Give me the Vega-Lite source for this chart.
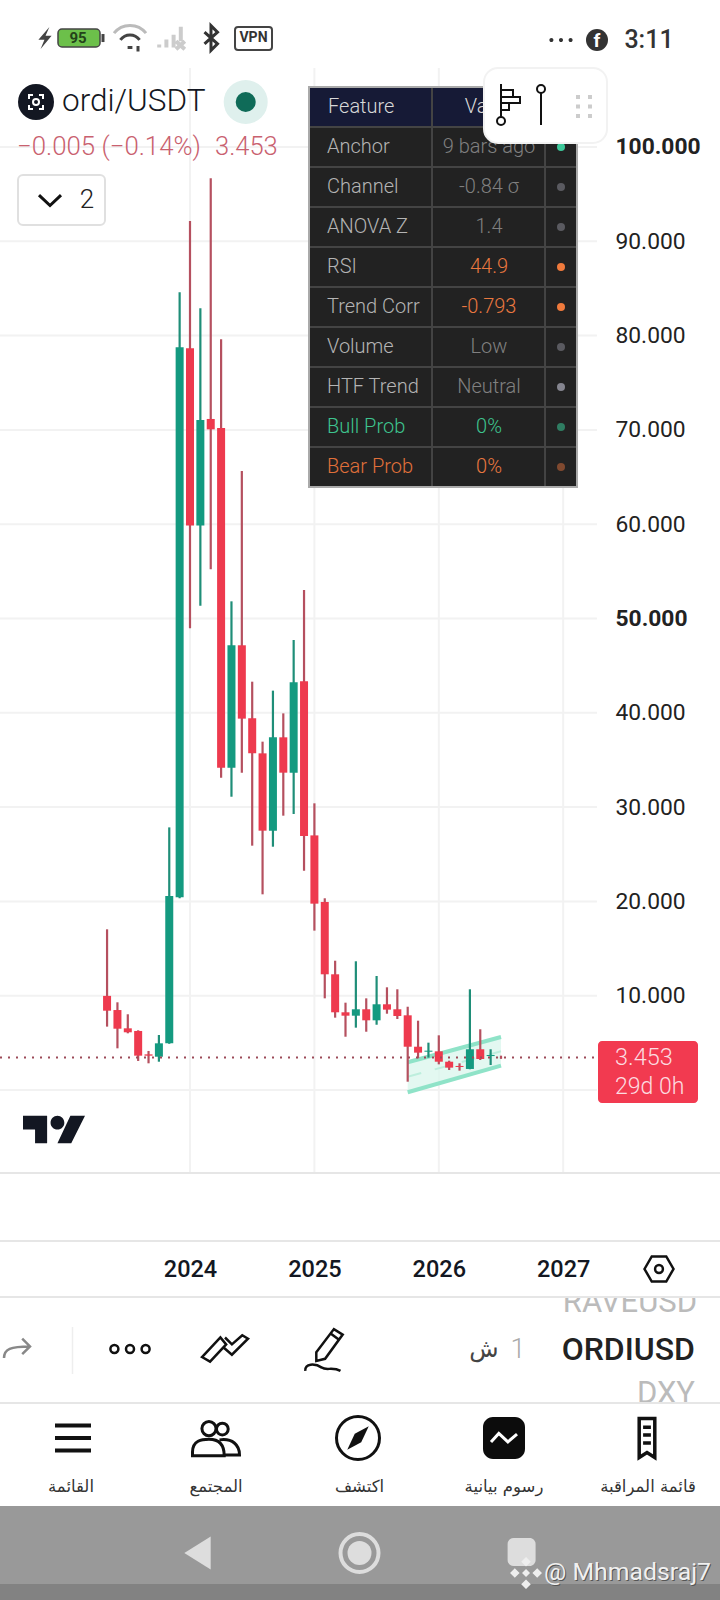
{
"$schema":"https://vega.github.io/schema/vega-lite/v6.json",
"width":720,"height":1600,"padding":0,"autosize":{"type":"none"},"background":"white",
"config":{"view":{"stroke":null},"font":"Roboto","axis":{"domain":false,"ticks":false,"grid":false,"title":null},"point":{"opacity":1},"text":{"baseline":"middle"}},
"data":{"values":[{"layer":"screen"}]},
"datasets":{
"candles":[
{"month":"2023-05","year":2023.3333,"open":9.98,"high":17.04,"low":6.72,"close":8.41},
{"month":"2023-06","year":2023.4167,"open":8.48,"high":9.3,"low":4.42,"close":6.5},
{"month":"2023-07","year":2023.5,"open":6.54,"high":8.03,"low":6.01,"close":6.12},
{"month":"2023-08","year":2023.5833,"open":6.26,"high":6.33,"low":3.08,"close":3.64},
{"month":"2023-09","year":2023.6667,"open":3.78,"high":4.14,"low":2.83,"close":3.64},
{"month":"2023-10","year":2023.75,"open":3.53,"high":5.83,"low":3.0,"close":4.95},
{"month":"2023-11","year":2023.8333,"open":4.95,"high":27.85,"low":4.9,"close":20.57},
{"month":"2023-12","year":2023.9167,"open":20.43,"high":84.59,"low":20.33,"close":78.76},
{"month":"2024-01","year":2024,"open":78.65,"high":92.15,"low":48.96,"close":59.85},
{"month":"2024-02","year":2024.0833,"open":59.85,"high":82.89,"low":51.36,"close":71.05},
{"month":"2024-03","year":2024.1667,"open":71.16,"high":96.68,"low":55.22,"close":70.06},
{"month":"2024-04","year":2024.25,"open":70.2,"high":79.6,"low":33.12,"close":34.18},
{"month":"2024-05","year":2024.3333,"open":34.18,"high":51.82,"low":31.1,"close":47.16},
{"month":"2024-06","year":2024.4167,"open":47.16,"high":65.64,"low":33.65,"close":39.38},
{"month":"2024-07","year":2024.5,"open":39.41,"high":43.3,"low":25.91,"close":35.7},
{"month":"2024-08","year":2024.5833,"open":35.7,"high":36.94,"low":20.75,"close":27.5},
{"month":"2024-09","year":2024.6667,"open":27.5,"high":42.35,"low":25.8,"close":37.4},
{"month":"2024-10","year":2024.75,"open":37.4,"high":39.94,"low":29.09,"close":33.65},
{"month":"2024-11","year":2024.8333,"open":33.65,"high":47.72,"low":29.27,"close":43.23},
{"month":"2024-12","year":2024.9167,"open":43.34,"high":53.02,"low":23.26,"close":26.94},
{"month":"2025-01","year":2025,"open":27.0,"high":30.4,"low":16.9,"close":19.76},
{"month":"2025-02","year":2025.0833,"open":19.94,"high":20.33,"low":9.72,"close":12.27},
{"month":"2025-03","year":2025.1667,"open":12.27,"high":13.71,"low":7.67,"close":8.24},
{"month":"2025-04","year":2025.25,"open":8.24,"high":9.26,"low":5.65,"close":7.88},
{"month":"2025-05","year":2025.3333,"open":7.88,"high":13.65,"low":6.61,"close":8.56},
{"month":"2025-06","year":2025.4167,"open":8.56,"high":9.72,"low":6.18,"close":7.39},
{"month":"2025-07","year":2025.5,"open":7.39,"high":12.09,"low":6.92,"close":9.09},
{"month":"2025-08","year":2025.5833,"open":9.09,"high":10.89,"low":8.09,"close":8.52},
{"month":"2025-09","year":2025.6667,"open":8.56,"high":10.68,"low":7.53,"close":7.85},
{"month":"2025-10","year":2025.75,"open":7.92,"high":8.83,"low":0.88,"close":4.59},
{"month":"2025-11","year":2025.8333,"open":4.59,"high":7.35,"low":3.36,"close":3.96},
{"month":"2025-12","year":2025.9167,"open":4.06,"high":5.02,"low":3.43,"close":4.17},
{"month":"2026-01","year":2026,"open":4.1,"high":5.8,"low":2.72,"close":3.0},
{"month":"2026-02","year":2026.0833,"open":3.0,"high":3.11,"low":2.12,"close":2.37},
{"month":"2026-03","year":2026.1667,"open":2.55,"high":2.83,"low":2.05,"close":2.44},
{"month":"2026-04","year":2026.25,"open":2.23,"high":10.68,"low":2.2,"close":4.32},
{"month":"2026-05","year":2026.3333,"open":4.32,"high":6.44,"low":3.18,"close":3.29},
{"month":"2026-06","year":2026.4167,"open":3.6,"high":4.32,"low":2.65,"close":3.71},
{"month":"2026-07","year":2026.5,"open":3.458,"high":3.64,"low":3.3,"close":3.453}
],
"channel":[{"year":2025.75,"upper":2.94,"mid":1.41,"lower":-0.24},{"year":2026.5,"upper":5.62,"mid":4.1,"lower":2.58}],
"features":[
{"feature":"Anchor","value":"9 bars ago"},{"feature":"Channel","value":"-0.84 σ"},{"feature":"ANOVA Z","value":"1.4"},
{"feature":"RSI","value":"44.9"},{"feature":"Trend Corr","value":"-0.793"},{"feature":"Volume","value":"Low"},
{"feature":"HTF Trend","value":"Neutral"},{"feature":"Bull Prob","value":"0%"},{"feature":"Bear Prob","value":"0%"}
]
},
"layer":[
{"data":{"values":[{"level":0},{"level":10},{"level":20},{"level":30},{"level":40},{"level":50},{"level":60},{"level":70},{"level":80},{"level":90},{"level":100}]},
"mark":{"type":"rule","color":"#f2f2f2","strokeWidth":2},
"encoding":{"y":{"field":"level","type":"quantitative","scale":{"domain":[-54.0827,115.5885],"nice":false,"zero":false},
"axis":{"orient":"right","offset":-105,"labelPadding":0,"labelAlign":"left","values":[10,20,30,40,50,60,70,80,90,100],"format":".3f","labelFontSize":22.8,"labelColor":"#222222","labelFontWeight":{"condition":{"test":"datum.value==50||datum.value==100","value":"bold"},"value":"normal"}}},
"x":{"datum":2022.4727},"x2":{"datum":2027.2717}}},
{"data":{"values":[{"year":2024},{"year":2025},{"year":2026},{"year":2027}]},
"mark":{"type":"rule","color":"#f2f2f2","strokeWidth":2},
"encoding":{"x":{"field":"year","type":"quantitative","scale":{"domain":[2022.47267,2028.26045],"nice":false,"zero":false,"padding":0},
"axis":{"orient":"bottom","offset":-343,"labelPadding":0,"values":[2024,2025,2026,2027],"format":"d","labelFontSize":23.5,"labelFontWeight":500,"labelColor":"#131722","labelBaseline":"top"}},
"y":{"datum":108.377},"y2":{"datum":-8.802}}},

{"data":{"name":"channel"},"mark":{"type":"area","color":"#d9f5ec","opacity":0.75},"encoding":{"x":{"field":"year","type":"quantitative"},"y":{"field":"upper","type":"quantitative"},"y2":{"field":"lower"}}},
{"data":{"name":"channel"},"mark":{"type":"line","color":"#8fe3c8","strokeWidth":4},"encoding":{"x":{"field":"year","type":"quantitative"},"y":{"field":"upper","type":"quantitative"}}},
{"data":{"name":"channel"},"mark":{"type":"line","color":"#8fe3c8","strokeWidth":4},"encoding":{"x":{"field":"year","type":"quantitative"},"y":{"field":"lower","type":"quantitative"}}},
{"data":{"name":"channel"},"mark":{"type":"line","color":"#bdeedd","strokeWidth":2,"strokeDash":[14,14]},"encoding":{"x":{"field":"year","type":"quantitative"},"y":{"field":"mid","type":"quantitative"}}},

{"data":{"name":"candles"},"mark":{"type":"rule","strokeWidth":2.2},
"encoding":{"x":{"field":"year","type":"quantitative"},"y":{"field":"high","type":"quantitative"},"y2":{"field":"low"},
"color":{"condition":{"test":"datum.close<datum.open","value":"#b5505f"},"value":"#1f8e78"}}},
{"data":{"name":"candles"},"mark":{"type":"bar","size":8,"orient":"vertical"},
"encoding":{"x":{"field":"year","type":"quantitative"},"y":{"field":"open","type":"quantitative"},"y2":{"field":"close"},
"color":{"condition":{"test":"datum.close<datum.open","value":"#ee3a4e"},"value":"#149a80"}}},

{"mark":{"type":"rule","color":"#9c4a58","strokeWidth":2,"strokeDash":[2,6]},"encoding":{"y":{"datum":3.453},"x":{"datum":2022.4727},"x2":{"datum":2027.2717}}},

{"mark":{"type":"rect","color":"#f23a50","cornerRadius":4},"encoding":{"x":{"datum":2027.2798},"x2":{"datum":2028.0836},"y":{"datum":5.195},"y2":{"datum":-1.377}}},
{"mark":{"type":"text","text":"3.453","align":"left","fontSize":23.5,"fontWeight":300,"color":"#fcdde0"},"encoding":{"x":{"datum":2027.4164},"y":{"datum":3.392}}},
{"mark":{"type":"text","text":"29d 0h","align":"left","fontSize":23,"fontWeight":300,"color":"#fcdde0"},"encoding":{"x":{"datum":2027.4164},"y":{"datum":0.314}}},
{"mark":{"type":"point","filled":true,"color":"#131722","size":3844,"shape":"M-0.222,-0.444 H-1 V0 H-0.611 V0.444 H-0.222 Z M0.556,0.444 H0.111 L0.528,-0.444 H1 Z M-0.111,-0.222 A0.222,0.222 0 1 0 0.333,-0.222 A0.222,0.222 0 1 0 -0.111,-0.222"},"encoding":{"x":{"datum":2022.9068},"y":{"datum":-4.19}}},

{"mark":{"type":"rect","fill":"#222222","stroke":"#aaaaaa","strokeWidth":2},"encoding":{"x":{"datum":2024.9566},"x2":{"datum":2027.111},"y":{"datum":106.362},"y2":{"datum":63.945}}},
{"mark":{"type":"rect","fill":"#161a36"},"encoding":{"x":{"datum":2024.9646},"x2":{"datum":2027.103},"y":{"datum":106.25},"y2":{"datum":102.121}}},
{"mark":{"type":"rule","color":"#444444","strokeWidth":2},"encoding":{"x":{"datum":2025.9454},"y":{"datum":106.25},"y2":{"datum":64.05}}},
{"mark":{"type":"rule","color":"#444444","strokeWidth":2},"encoding":{"x":{"datum":2026.8538},"y":{"datum":106.25},"y2":{"datum":64.05}}},
{"mark":{"type":"rule","color":"#444444","strokeWidth":2},"encoding":{"y":{"datum":102.121},"x":{"datum":2024.9646},"x2":{"datum":2027.103}}},
{"data":{"name":"features"},"transform":[{"filter":"datum.feature!='Bear Prob'"}],"mark":{"type":"rule","color":"#444444","strokeWidth":2},
"encoding":{"y":{"datum":97.879},"yOffset":{"field":"feature","type":"nominal","scale":{"type":"point","padding":0,"domain":["Anchor","Channel","ANOVA Z","RSI","Trend Corr","Volume","HTF Trend","Bull Prob","Bear Prob"],"range":[0,320]}},"x":{"datum":2024.9646},"x2":{"datum":2027.103}}},
{"mark":{"type":"text","text":"Feature","align":"left","fontSize":20,"fontWeight":300,"color":"#d8d8d8"},"encoding":{"x":{"datum":2025.1094},"y":{"datum":104.242}}},
{"mark":{"type":"text","text":"Value","fontSize":20,"fontWeight":300,"color":"#d8d8d8"},"encoding":{"x":{"datum":2026.4035},"y":{"datum":104.242}}},
{"data":{"name":"features"},"mark":{"type":"text","align":"left","fontSize":20,"fontWeight":300},
"encoding":{"x":{"datum":2025.1013},"y":{"datum":100},"yOffset":{"field":"feature","type":"nominal","scale":{"type":"point","padding":0,"domain":["Anchor","Channel","ANOVA Z","RSI","Trend Corr","Volume","HTF Trend","Bull Prob","Bear Prob"],"range":[0,320]}},"text":{"field":"feature"},
"color":{"condition":[{"test":"datum.feature=='Bull Prob'","value":"#3ec48f"},{"test":"datum.feature=='Bear Prob'","value":"#e0703a"}],"value":"#b4b4b4"}}},
{"data":{"name":"features"},"mark":{"type":"text","fontSize":20,"fontWeight":300},
"encoding":{"x":{"datum":2026.4035},"y":{"datum":100},"yOffset":{"field":"feature","type":"nominal","scale":{"type":"point","padding":0,"domain":["Anchor","Channel","ANOVA Z","RSI","Trend Corr","Volume","HTF Trend","Bull Prob","Bear Prob"],"range":[0,320]}},"text":{"field":"value"},
"color":{"condition":[{"test":"datum.feature=='Bull Prob'","value":"#3ec48f"},{"test":"datum.feature=='Bear Prob'||datum.feature=='RSI'||datum.feature=='Trend Corr'","value":"#ea7840"}],"value":"#808080"}}},
{"data":{"name":"features"},"mark":{"type":"point","filled":true,"size":64},
"encoding":{"x":{"datum":2026.9823},"y":{"datum":100},"yOffset":{"field":"feature","type":"nominal","scale":{"type":"point","padding":0,"domain":["Anchor","Channel","ANOVA Z","RSI","Trend Corr","Volume","HTF Trend","Bull Prob","Bear Prob"],"range":[0,320]}},
"color":{"condition":[{"test":"datum.feature=='Anchor'","value":"#3dc89a"},{"test":"datum.feature=='RSI'||datum.feature=='Trend Corr'","value":"#f07a3c"},{"test":"datum.feature=='HTF Trend'","value":"#85858f"},{"test":"datum.feature=='Bull Prob'","value":"#2f7d62"},{"test":"datum.feature=='Bear Prob'","value":"#80492f"}],"value":"#5a5a60"}}},

{"mark":{"type":"rect","fill":"white","stroke":"#f2f2f2","strokeWidth":2,"cornerRadius":14},"encoding":{"x":{"datum":2026.3634},"x2":{"datum":2027.3522},"y":{"datum":108.377},"y2":{"datum":100.424}}},
{"mark":{"type":"point","filled":false,"color":"#111111","strokeWidth":2,"size":1764,"shape":"M-0.333,-1 V0.571 M-0.333,-0.714 H0.238 V-0.381 H0.571 V-0.095 H0.048 V0.238 H-0.333 M-0.333,-0.381 H0.238 M-0.333,-0.095 H0.048 M-0.333,0.571 A0.19,0.19 0 1 0 -0.333,0.952 A0.19,0.19 0 1 0 -0.333,0.571"},"encoding":{"x":{"datum":2026.5563},"y":{"datum":104.454}}},
{"mark":{"type":"point","filled":false,"color":"#111111","strokeWidth":2,"size":1764,"shape":"M0,-0.571 V0.952 M0,-0.952 A0.19,0.19 0 1 0 0,-0.571 A0.19,0.19 0 1 0 0,-0.952"},"encoding":{"x":{"datum":2026.8216},"y":{"datum":104.454}}},
{"mark":{"type":"point","filled":true,"color":"#cccccc","size":1764,"shape":"M-0.38,-0.55 H-0.19 V-0.36 H-0.38 Z M0.19,-0.55 H0.38 V-0.36 H0.19 Z M-0.38,-0.1 H-0.19 V0.09 H-0.38 Z M0.19,-0.1 H0.38 V0.09 H0.19 Z M-0.38,0.36 H-0.19 V0.55 H-0.38 Z M0.19,0.36 H0.38 V0.55 H0.19 Z"},"encoding":{"x":{"datum":2027.1672},"y":{"datum":104.295}}},

{"mark":{"type":"point","filled":true,"color":"#131722","size":1296},"encoding":{"x":{"datum":2022.7621},"y":{"datum":104.772}}},
{"mark":{"type":"point","filled":false,"color":"white","strokeWidth":2,"size":400,"shape":"M-0.7,-0.3 V-0.7 H-0.3 M0.3,-0.7 H0.7 V-0.3 M0.7,0.3 V0.7 H0.3 M-0.3,0.7 H-0.7 V0.3 M-0.3,0 A0.3,0.3 0 1 0 0.3,0 A0.3,0.3 0 1 0 -0.3,0"},"encoding":{"x":{"datum":2022.7621},"y":{"datum":104.772}}},
{"mark":{"type":"text","text":"ordi/USDT","align":"left","fontSize":31.5,"fontWeight":300,"color":"#131722"},"encoding":{"x":{"datum":2022.9711},"y":{"datum":104.772}}},
{"mark":{"type":"point","filled":true,"color":"#dff0ed","size":1936},"encoding":{"x":{"datum":2024.4478},"y":{"datum":104.772}}},
{"mark":{"type":"point","filled":true,"color":"#0f6b58","size":400},"encoding":{"x":{"datum":2024.4478},"y":{"datum":104.772}}},
{"mark":{"type":"text","text":"−0.005 (−0.14%)","align":"left","fontSize":25.8,"fontWeight":300,"color":"#c9616f"},"encoding":{"x":{"datum":2022.6094},"y":{"datum":99.999}}},
{"mark":{"type":"text","text":"3.453","align":"left","fontSize":25.5,"fontWeight":300,"color":"#c9616f"},"encoding":{"x":{"datum":2024.201},"y":{"datum":99.999}}},
{"mark":{"type":"rect","fill":"white","stroke":"#e0e0e0","strokeWidth":2,"cornerRadius":5},"encoding":{"x":{"datum":2022.6174},"x2":{"datum":2023.3168},"y":{"datum":97.03},"y2":{"datum":91.728}}},
{"mark":{"type":"point","filled":false,"color":"#111111","strokeWidth":3,"size":484,"shape":"M-1,-0.45 L0,0.5 L1,-0.45"},"encoding":{"x":{"datum":2022.8746},"y":{"datum":94.379}}},
{"mark":{"type":"text","text":"2","fontSize":26,"fontWeight":300,"color":"#222222"},"encoding":{"x":{"datum":2023.1721},"y":{"datum":94.379}}},

{"mark":{"type":"point","filled":true,"color":"#444444","size":484,"shape":"M0.4,-1 L-0.6,0.15 H-0.05 L-0.4,1 L0.6,-0.2 H0.05 Z"},"encoding":{"x":{"datum":2022.8344},"y":{"datum":111.559}}},
{"mark":{"type":"rect","fill":"#6cc04a","stroke":"#444444","strokeWidth":1.5,"cornerRadius":4},"encoding":{"x":{"datum":2022.9389},"x2":{"datum":2023.2766},"y":{"datum":112.513},"y2":{"datum":110.604}}},
{"mark":{"type":"rect","fill":"#444444"},"encoding":{"x":{"datum":2023.2886},"x2":{"datum":2023.3127},"y":{"datum":111.98},"y2":{"datum":111.13}}},
{"mark":{"type":"text","text":"95","fontSize":15,"fontWeight":"bold","color":"#24421a"},"encoding":{"x":{"datum":2023.0997},"y":{"datum":111.559}}},
{"mark":{"type":"point","filled":false,"color":"#bbbbbb","strokeWidth":3,"size":1024,"shape":"M-1,-0.3 C-0.5,-0.95 0.5,-0.95 1,-0.3"},"encoding":{"x":{"datum":2023.5177},"y":{"datum":111.559}}},
{"mark":{"type":"point","filled":false,"color":"#444444","strokeWidth":3,"size":1024,"shape":"M-0.6,0.12 C-0.3,-0.3 0.3,-0.3 0.6,0.12 M-0.15,0.6 H0.15 M0.5,0.5 V0.85"},"encoding":{"x":{"datum":2023.5177},"y":{"datum":111.559}}},
{"mark":{"type":"point","filled":false,"color":"#cccccc","strokeWidth":4,"size":1024,"shape":"M-0.8,0.6 V0.4 M-0.35,0.6 V0.1 M0.1,0.6 V-0.2 M0.55,0.2 V-0.7 M0.25,0.2 L0.8,0.7 M0.8,0.2 L0.25,0.7"},"encoding":{"x":{"datum":2023.8553},"y":{"datum":111.559}}},
{"mark":{"type":"point","filled":false,"color":"#333333","strokeWidth":3,"size":676,"shape":"M-0.5,-0.45 L0.5,0.45 L0,0.95 V-0.95 L0.5,-0.45 L-0.5,0.45"},"encoding":{"x":{"datum":2024.1688},"y":{"datum":111.559}}},
{"mark":{"type":"rect","fill":"white","stroke":"#444444","strokeWidth":2,"cornerRadius":3},"encoding":{"x":{"datum":2024.3618},"x2":{"datum":2024.6592},"y":{"datum":112.725},"y2":{"datum":110.286}}},
{"mark":{"type":"text","text":"VPN","fontSize":14,"fontWeight":"bold","color":"#333333"},"encoding":{"x":{"datum":2024.5105},"y":{"datum":111.506}}},
{"mark":{"type":"point","filled":true,"color":"#333333","size":576,"shape":"M-0.97,0 A0.17,0.17 0 1 0 -0.63,0 A0.17,0.17 0 1 0 -0.97,0 M-0.17,0 A0.17,0.17 0 1 0 0.17,0 A0.17,0.17 0 1 0 -0.17,0 M0.63,0 A0.17,0.17 0 1 0 0.97,0 A0.17,0.17 0 1 0 0.63,0"},"encoding":{"x":{"datum":2026.9823},"y":{"datum":111.347}}},
{"mark":{"type":"point","filled":true,"color":"#333333","size":484},"encoding":{"x":{"datum":2027.2717},"y":{"datum":111.347}}},
{"mark":{"type":"text","text":"f","fontSize":19,"fontWeight":"bold","color":"white","dy":1},"encoding":{"x":{"datum":2027.2717},"y":{"datum":111.347}}},
{"mark":{"type":"text","text":"3:11","fontSize":25,"fontWeight":500,"color":"#333333"},"encoding":{"x":{"datum":2027.6897},"y":{"datum":111.347}}},

{"mark":{"type":"rule","color":"#e6e6e6","strokeWidth":2},"encoding":{"y":{"datum":-8.802}}},
{"mark":{"type":"rule","color":"#e6e6e6","strokeWidth":2},"encoding":{"y":{"datum":-16.013}}},
{"mark":{"type":"point","filled":false,"color":"#111111","strokeWidth":2.5,"size":841,"shape":"M-1,0 L-0.5,-0.87 H0.5 L1,0 L0.5,0.87 H-0.5 Z M-0.27,0 A0.27,0.27 0 1 0 0.27,0 A0.27,0.27 0 1 0 -0.27,0"},"encoding":{"x":{"datum":2027.7701},"y":{"datum":-18.982}}},

{"mark":{"type":"text","text":"RAVEUSD","align":"right","fontSize":31,"color":"#bbbbbb"},"encoding":{"x":{"datum":2028.0756},"y":{"datum":-22.587}}},
{"mark":{"type":"rect","fill":"white"},"encoding":{"x":{"datum":2026.8},"x2":{"datum":2028.26},"y":{"datum":-20.68},"y2":{"datum":-21.951}}},
{"mark":{"type":"rule","color":"#e6e6e6","strokeWidth":2},"encoding":{"y":{"datum":-21.951}}},
{"mark":{"type":"text","text":"ORDIUSD","align":"right","fontSize":32,"fontWeight":500,"color":"#222222"},"encoding":{"x":{"datum":2028.0595},"y":{"datum":-27.572}}},
{"mark":{"type":"text","text":"DXY","align":"right","fontSize":31,"color":"#bbbbbb"},"encoding":{"x":{"datum":2028.0595},"y":{"datum":-32.24}}},
{"mark":{"type":"text","text":"1","fontSize":27,"fontWeight":300,"color":"#aaaaaa"},"encoding":{"x":{"datum":2026.6367},"y":{"datum":-27.572}}},
{"mark":{"type":"text","text":"ش","fontSize":24,"font":"DejaVu Sans","color":"#444444"},"encoding":{"x":{"datum":2026.3634},"y":{"datum":-27.572}}},
{"mark":{"type":"point","filled":false,"color":"#111111","strokeWidth":2.5,"size":1936,"shape":"M-0.35,0.1 L0.45,-0.95 L0.85,-0.7 L0.05,0.4 L-0.35,0.5 Z M0.3,-0.75 L0.7,-0.45 M-0.85,0.95 C-0.9,0.6 -0.4,0.6 -0.1,0.8 C0.1,0.95 0.4,0.75 0.75,0.95"},"encoding":{"x":{"datum":2025.0772},"y":{"datum":-27.572}}},
{"mark":{"type":"point","filled":false,"color":"#111111","strokeWidth":2.5,"size":2116,"shape":"M-1,0.35 L-0.2,-0.5 L0.05,-0.2 L-0.65,0.55 Z M-0.1,-0.1 L0.3,0.25 L1,-0.45 L0.75,-0.6 L0.3,-0.2 L0,-0.5"},"encoding":{"x":{"datum":2024.2814},"y":{"datum":-27.466}}},
{"mark":{"type":"point","filled":false,"color":"#111111","strokeWidth":2.5,"size":1600,"shape":"M-0.98,0 A0.2,0.2 0 1 0 -0.58,0 A0.2,0.2 0 1 0 -0.98,0 M-0.2,0 A0.2,0.2 0 1 0 0.2,0 A0.2,0.2 0 1 0 -0.2,0 M0.58,0 A0.2,0.2 0 1 0 0.98,0 A0.2,0.2 0 1 0 0.58,0"},"encoding":{"x":{"datum":2023.5177},"y":{"datum":-27.466}}},
{"mark":{"type":"rule","color":"#eeeeee","strokeWidth":1.5},"encoding":{"x":{"datum":2023.0555},"y":{"datum":-25.133},"y2":{"datum":-30.117}}},
{"mark":{"type":"point","filled":false,"color":"#888888","strokeWidth":2.5,"size":676,"shape":"M-1,0.7 C-1,0 -0.5,-0.2 1,-0.2 M0.4,-0.8 L1,-0.2 L0.4,0.4"},"encoding":{"x":{"datum":2022.6094},"y":{"datum":-27.466}}},

{"mark":{"type":"rect","fill":"white"},"encoding":{"x":{"datum":2022.4727},"x2":{"datum":2028.2605},"y":{"datum":-33.192},"y2":{"datum":-44.115}}},
{"mark":{"type":"rule","color":"#e6e6e6","strokeWidth":2},"encoding":{"y":{"datum":-33.192}}},
{"mark":{"type":"point","filled":false,"color":"#111111","strokeWidth":4,"size":1296,"shape":"M-1,-0.7 H1 M-1,0 H1 M-1,0.7 H1"},"encoding":{"x":{"datum":2023.0595},"y":{"datum":-36.904}}},
{"mark":{"type":"point","filled":false,"color":"#111111","strokeWidth":3,"size":2209,"shape":"M-0.6,-0.4 A0.3,0.3 0 1 0 0,-0.4 A0.3,0.3 0 1 0 -0.6,-0.4 M0.02,-0.38 A0.25,0.25 0 1 0 0.52,-0.38 A0.25,0.25 0 1 0 0.02,-0.38 M-1,0.75 V0.6 C-1,0.1 -0.6,0.05 -0.3,0.05 C0,0.05 0.35,0.15 0.35,0.75 Z M0.15,0.08 C0.7,0 1,0.3 1,0.72 H0.35"},"encoding":{"x":{"datum":2024.209},"y":{"datum":-36.904}}},
{"mark":{"type":"point","filled":false,"color":"#111111","strokeWidth":3,"size":1849},"encoding":{"x":{"datum":2025.3505},"y":{"datum":-36.904}}},
{"mark":{"type":"point","filled":true,"color":"#111111","size":1849,"shape":"M0.5,-0.55 L0.15,0.2 L-0.5,0.55 L-0.15,-0.2 Z"},"encoding":{"x":{"datum":2025.3505},"y":{"datum":-36.904}}},
{"mark":{"type":"rect","fill":"#0c0c0c","cornerRadius":10},"encoding":{"x":{"datum":2026.3553},"x2":{"datum":2026.693},"y":{"datum":-34.677},"y2":{"datum":-39.131}}},
{"mark":{"type":"point","filled":false,"color":"white","strokeWidth":3,"size":676,"shape":"M-1,0.3 L-0.4,-0.35 L0.3,0.3 L1,-0.3"},"encoding":{"x":{"datum":2026.5241},"y":{"datum":-36.904}}},
{"mark":{"type":"point","filled":false,"color":"#111111","strokeWidth":3.5,"size":1521,"shape":"M-0.4,-1 H0.4 V1 L0,0.75 L-0.4,1 Z M-0.2,-0.55 H0.2 M-0.2,-0.15 H0.2 M-0.2,0.25 H0.2"},"encoding":{"x":{"datum":2027.6736},"y":{"datum":-36.904}}},
{"mark":{"type":"text","text":"القائمة","font":"DejaVu Sans","fontSize":16.5,"color":"#333333"},"encoding":{"x":{"datum":2023.0434},"y":{"datum":-42.1}}},
{"mark":{"type":"text","text":"المجتمع","font":"DejaVu Sans","fontSize":16.5,"color":"#333333"},"encoding":{"x":{"datum":2024.209},"y":{"datum":-42.1}}},
{"mark":{"type":"text","text":"اكتشف","font":"DejaVu Sans","fontSize":16.5,"color":"#333333"},"encoding":{"x":{"datum":2025.3626},"y":{"datum":-42.1}}},
{"mark":{"type":"text","text":"رسوم بيانية","font":"DejaVu Sans","fontSize":16.5,"color":"#333333"},"encoding":{"x":{"datum":2026.5241},"y":{"datum":-42.1}}},
{"mark":{"type":"text","text":"قائمة المراقبة","font":"DejaVu Sans","fontSize":16.5,"color":"#333333"},"encoding":{"x":{"datum":2027.6817},"y":{"datum":-42.1}}},

{"mark":{"type":"rect","fill":"#999999"},"encoding":{"x":{"datum":2022.4727},"x2":{"datum":2028.2605},"y":{"datum":-44.115},"y2":{"datum":-54.083}}},
{"mark":{"type":"rect","fill":"#828282"},"encoding":{"x":{"datum":2022.4727},"x2":{"datum":2028.2605},"y":{"datum":-52.386},"y2":{"datum":-54.083}}},
{"mark":{"type":"point","filled":true,"color":"#dddddd","size":1089,"shape":"M0.8,-1 V1 L-0.8,0 Z"},"encoding":{"x":{"datum":2024.0603},"y":{"datum":-49.099}}},
{"mark":{"type":"point","filled":false,"color":"#dddddd","strokeWidth":4,"size":1444},"encoding":{"x":{"datum":2025.3626},"y":{"datum":-49.099}}},
{"mark":{"type":"point","filled":true,"color":"#dddddd","size":576},"encoding":{"x":{"datum":2025.3626},"y":{"datum":-49.099}}},
{"mark":{"type":"rect","fill":"#dddddd","cornerRadius":6},"encoding":{"x":{"datum":2026.5531},"x2":{"datum":2026.7782},"y":{"datum":-47.509},"y2":{"datum":-50.478}}},
{"mark":{"type":"point","filled":true,"color":"#eeeeee","size":1024,"shape":"M0,-1 L0.3,-0.7 L0,-0.4 L-0.3,-0.7 Z M0,1 L0.3,0.7 L0,0.4 L-0.3,0.7 Z M-1,0 L-0.7,-0.3 L-0.4,0 L-0.7,0.3 Z M1,0 L0.7,-0.3 L0.4,0 L0.7,0.3 Z M0,-0.25 L0.25,0 L0,0.25 L-0.25,0 Z"},"encoding":{"x":{"datum":2026.701},"y":{"datum":-51.22}}},
{"mark":{"type":"text","text":"@ Mhmadsraj7","align":"left","fontSize":24.8,"color":"#555555","dx":1,"dy":1},"encoding":{"x":{"datum":2026.8457},"y":{"datum":-51.22}}},
{"mark":{"type":"text","text":"@ Mhmadsraj7","align":"left","fontSize":24.8,"color":"#f0f0f0"},"encoding":{"x":{"datum":2026.8457},"y":{"datum":-51.22}}}
]
}
